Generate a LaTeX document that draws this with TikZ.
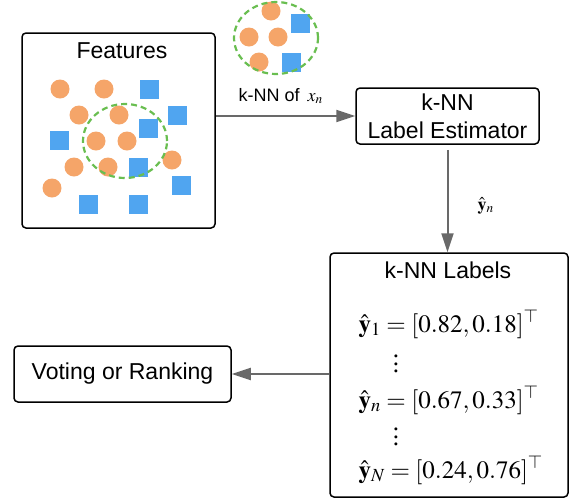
\documentclass[tikz,border=0pt]{standalone}
\usepackage{mathptmx}
\usepackage[no-math]{fontspec}
\setmainfont{Liberation Sans}
\newfontfamily\serifdots{Liberation Serif}
\usetikzlibrary{arrows.meta,positioning}
\definecolor{dotorange}{RGB}{245,165,105}
\definecolor{dotblue}{RGB}{80,165,240}
\definecolor{knngreen}{RGB}{105,190,80}
\definecolor{flowgray}{RGB}{105,105,105}
\newcommand{\bigtxt}{\fontsize{23}{28}\selectfont}
\newcommand{\smalltxt}{\fontsize{18}{22}\selectfont}
\newcommand{\eqtxt}{\fontsize{25}{30}\selectfont}
\newcommand{\dotstxt}{\serifdots\fontsize{25}{7.3}\selectfont}
\tikzset{
	box/.style={draw, rounded corners=4pt, line width=1.5pt, align=center, inner sep=0pt, font=\bigtxt},
	odot/.style={circle, fill=dotorange, minimum size=19pt, inner sep=0pt},
	sqdot/.style={rectangle, fill=dotblue, minimum size=19pt, inner sep=0pt},
	knn/.style={dash pattern=on 6pt off 4pt, line width=2.2pt, knngreen},
	flow/.style={-{Triangle[length=19pt,width=12pt]}, line width=2pt, flowgray},
	vdotsnode/.style={font=\dotstxt, align=center, inner sep=0pt}
}

\begin{document}
\begin{tikzpicture}[x=1pt, y=-1pt]
	\useasboundingbox (0,0) rectangle (572,499);

	% feature space
	\node [box, minimum width=193pt, minimum height=195pt] (feat) at (118.5,130.5) {};
	\node [anchor=base, font=\bigtxt] (feattitle) at (122,58) {Features};
	\node [odot] (o1) at (60,89) {};
	\node [odot] (o2) at (104,89) {};
	\node [odot] (o3) at (79,115) {};
	\node [odot] (o4) at (119,115) {};
	\node [odot] (o5) at (96,141) {};
	\node [odot] (o6) at (127,141) {};
	\node [odot] (o7) at (74,167) {};
	\node [odot] (o8) at (108,167) {};
	\node [odot] (o9) at (172,160) {};
	\node [odot] (o10) at (52,188) {};
	\node [sqdot] (b1) at (149,89) {};
	\node [sqdot] (b2) at (177,115) {};
	\node [sqdot] (b3) at (148,128) {};
	\node [sqdot] (b4) at (59,140) {};
	\node [sqdot] (b5) at (138,167) {};
	\node [sqdot] (b6) at (181,185) {};
	\node [sqdot] (b7) at (88,204) {};
	\node [sqdot] (b8) at (138,204) {};
	\draw [knn] (125,141) ellipse [x radius=42pt, y radius=37pt];

	% neighbours of x_n
	\node [odot] (n1) at (271,11) {};
	\node [odot] (n2) at (249,37) {};
	\node [odot] (n3) at (278,37) {};
	\node [odot] (n4) at (259,62) {};
	\node [sqdot] (m1) at (300,23) {};
	\node [sqdot] (m2) at (291,62) {};
	\draw [knn] (276,38) ellipse [x radius=42pt, y radius=36pt];

	\node [box, minimum width=183pt, minimum height=56pt] (est) at (447.5,116) {k-NN\\Label Estimator};
	\draw [flow] (feat.east |- est) -- (est);
	\node [anchor=base west, font=\smalltxt] (knnof) at (235,101) {k-NN of \,$x_n$};

	% labels of the neighbours
	\node [box, minimum width=238pt, minimum height=244pt] (labels) at (449,375) {};
	\draw [flow, shorten <=5pt] (est.south) -- (est.south |- labels.north);
	\node [anchor=base west, font=\smalltxt] (yhat) at (474,210) {$\hat{\mathbf{y}}_n$};
	\node [anchor=base, font=\bigtxt] (labtitle) at (448,278) {k-NN Labels};
	\node [anchor=base west, font=\eqtxt] (eq1) at (355,332) {$\hat{\mathbf{y}}_{1} = [0.82, 0.18]^{\top}$};
	\node [vdotsnode] (dots1) at (396,364) {.\\.\\.};
	\node [anchor=base west, font=\eqtxt] (eqn) at (355,408) {$\hat{\mathbf{y}}_{n} = [0.67, 0.33]^{\top}$};
	\node [vdotsnode] (dots2) at (396,437) {.\\.\\.};
	\node [anchor=base west, font=\eqtxt] (eqN) at (355,478) {$\hat{\mathbf{y}}_{N} = [0.24, 0.76]^{\top}$};

	\node [box, minimum width=217pt, minimum height=56pt] (vote) at (122.5,374) {Voting or Ranking};
	\draw [flow] (labels.west |- vote) -- (vote);
\end{tikzpicture}
\end{document}
